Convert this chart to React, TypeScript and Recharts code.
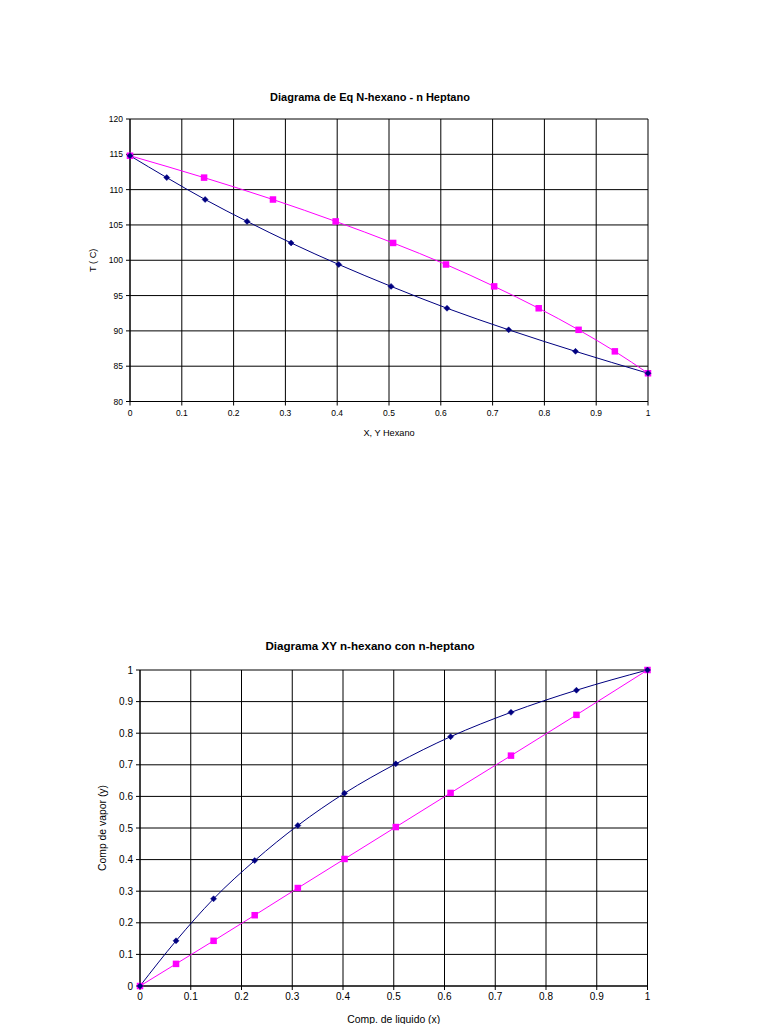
import React from "react";
import { LineChart, Line, XAxis, YAxis, CartesianGrid } from "recharts";

// ---- data ----
const xLiquid = [0, 0.071, 0.145, 0.226, 0.311, 0.403, 0.504, 0.612, 0.731, 0.86, 1];
const yVapor = [0, 0.143, 0.276, 0.397, 0.508, 0.61, 0.703, 0.789, 0.866, 0.936, 1];
const temperature = [114.8, 111.7, 108.6, 105.5, 102.45, 99.4, 96.3, 93.2, 90.15, 87.1, 84.0];
const diagonalY = [0, 0.07, 0.143, 0.224, 0.31, 0.402, 0.503, 0.611, 0.729, 0.858, 1];

const xTicks = [0, 0.1, 0.2, 0.3, 0.4, 0.5, 0.6, 0.7, 0.8, 0.9, 1];
const tTicks = [80, 85, 90, 95, 100, 105, 110, 115, 120];
const yTicks = [0, 0.1, 0.2, 0.3, 0.4, 0.5, 0.6, 0.7, 0.8, 0.9, 1];

const title1 = "Diagrama de Eq N-hexano - n Heptano";
const title2 = "Diagrama XY n-hexano con n-heptano";
const xTitle1 = "X, Y Hexano";
const yTitle1 = "T ( C)";
const xTitle2 = "Comp. de liquido (x)";
const yTitle2 = "Comp de vapor (y)";

// ---- tables built from the arrays ----
const liquidT = xLiquid.map((x, i) => ({ x, v: temperature[i] }));
const vaporT = yVapor.map((x, i) => ({ x, v: temperature[i] }));
const equilibrium = xLiquid.map((x, i) => ({ x, v: yVapor[i] }));
const diagonal = xLiquid.map((x, i) => ({ x, v: diagonalY[i] }));

const FONT = "'Liberation Sans', Arial, sans-serif";
const BLUE = "#000080";
const PINK = "#FF00FF";

const Diamond = (props: any) => {
  const { cx, cy, key } = props;
  if (cx == null || cy == null) return <g key={key} />;
  const r = 3;
  return (
    <path
      key={key}
      d={`M${cx},${cy - r}L${cx + r},${cy}L${cx},${cy + r}L${cx - r},${cy}Z`}
      fill={BLUE}
      stroke={BLUE}
      strokeWidth={0.5}
    />
  );
};

const Square = (props: any) => {
  const { cx, cy, key } = props;
  if (cx == null || cy == null) return <g key={key} />;
  const s = 6.5;
  return <rect key={key} x={cx - s / 2} y={cy - s / 2} width={s} height={s} fill={PINK} />;
};

const xTitle = (text: string, dy: number, size: number) => (props: any) => {
  const vb = props.viewBox || {};
  return (
    <text
      x={vb.x + vb.width / 2}
      y={vb.y + dy}
      textAnchor="middle"
      dominantBaseline="central"
      fontSize={size}
      fontFamily={FONT}
      fill="#000"
    >
      {text}
    </text>
  );
};

const yTitle = (text: string, dx: number, size: number) => (props: any) => {
  const vb = props.viewBox || {};
  const cx = vb.x + dx;
  const cy = vb.y + vb.height / 2;
  return (
    <text
      x={cx}
      y={cy}
      transform={`rotate(-90, ${cx}, ${cy})`}
      textAnchor="middle"
      dominantBaseline="central"
      fontSize={size}
      fontFamily={FONT}
      fill="#000"
    >
      {text}
    </text>
  );
};

const titleStyle = (top: number, size: number): React.CSSProperties => ({
  position: "absolute",
  left: 0,
  top,
  width: 740,
  textAlign: "center",
  fontFamily: FONT,
  fontWeight: "bold",
  fontSize: size,
  lineHeight: "12px",
  color: "#000",
});

export default function App() {
  const tick1 = { fontSize: 8.5, fill: "#000", fontFamily: FONT };
  const tick2 = { fontSize: 10, fill: "#000", fontFamily: FONT };
  return (
    <div
      style={{
        position: "absolute",
        left: 0,
        top: 0,
        width: 768,
        height: 1024,
        background: "#fff",
        overflow: "hidden",
      }}
    >
      <div style={titleStyle(91, 11)}>{title1}</div>
      <div style={{ position: "absolute", left: 0, top: 0 }}>
        <LineChart width={768} height={460} margin={{ top: 119, right: 120, left: 80, bottom: 18.5 }}>
          <CartesianGrid stroke="#000" strokeWidth={1} />
          <XAxis
            type="number"
            dataKey="x"
            domain={[0, 1]}
            ticks={xTicks}
            interval={0}
            height={40}
            tick={tick1}
            tickSize={4}
            tickMargin={4}
            stroke="#000"
            label={{ content: xTitle(xTitle1, 31.5, 9.2) } as any}
          />
          <YAxis
            type="number"
            domain={[80, 120]}
            ticks={tTicks}
            interval={0}
            width={50}
            tick={tick1}
            tickSize={4}
            tickMargin={3}
            stroke="#000"
            label={{ content: yTitle(yTitle1, 13, 9.2) } as any}
          />
          <Line
            data={vaporT}
            dataKey="v"
            type="monotone"
            stroke={PINK}
            strokeWidth={1}
            dot={Square}
            activeDot={false}
            isAnimationActive={false}
          />
          <Line
            data={liquidT}
            dataKey="v"
            type="monotone"
            stroke={BLUE}
            strokeWidth={1}
            dot={Diamond}
            activeDot={false}
            isAnimationActive={false}
          />
        </LineChart>
      </div>

      <div style={titleStyle(640, 11.6)}>{title2}</div>
      <div style={{ position: "absolute", left: 0, top: 620 }}>
        <LineChart width={768} height={404} margin={{ top: 50, right: 120.5, left: 90, bottom: 2 }}>
          <CartesianGrid stroke="#000" strokeWidth={1} />
          <XAxis
            type="number"
            dataKey="x"
            domain={[0, 1]}
            ticks={xTicks}
            interval={0}
            height={36}
            tick={tick2}
            tickSize={4}
            tickMargin={3}
            stroke="#000"
            label={{ content: xTitle(xTitle2, 33, 10.4) } as any}
          />
          <YAxis
            type="number"
            domain={[0, 1]}
            ticks={yTicks}
            interval={0}
            width={50}
            tick={tick2}
            tickSize={4}
            tickMargin={3}
            stroke="#000"
            label={{ content: yTitle(yTitle2, 12, 10.4) } as any}
          />
          <Line
            data={diagonal}
            dataKey="v"
            type="monotone"
            stroke={PINK}
            strokeWidth={1}
            dot={Square}
            activeDot={false}
            isAnimationActive={false}
          />
          <Line
            data={equilibrium}
            dataKey="v"
            type="monotone"
            stroke={BLUE}
            strokeWidth={1}
            dot={Diamond}
            activeDot={false}
            isAnimationActive={false}
          />
        </LineChart>
      </div>
    </div>
  );
}
